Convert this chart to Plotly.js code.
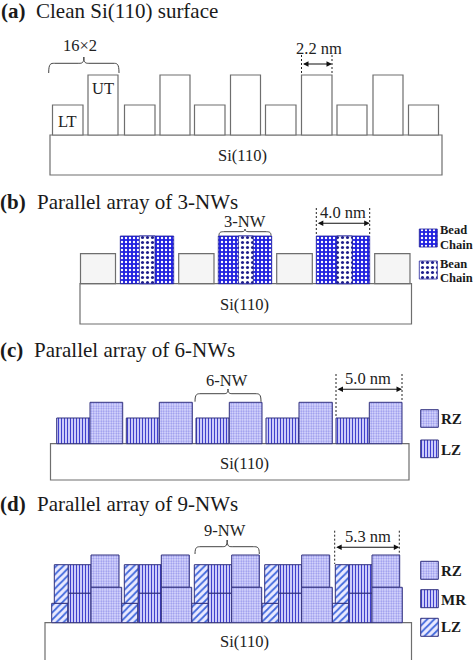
<!DOCTYPE html>
<html><head><meta charset="utf-8">
<script src="https://cdn.plot.ly/plotly-3.0.1.min.js"></script>
<style>html,body{margin:0;padding:0;background:#fff}</style></head>
<body><div id="chart" style="width:474px;height:660px"></div>
<script>
// Rectangles: left, right, top, bottom (axis units)
const substrateL=[50,80,50.5,45], substrateR=[442,411.5,409,411.5], substrateT=[135,283.7,443.7,622.7], substrateB=[175,324,480,668];

const aLowL=[52.5,124.5,194.5,265.5,337,408.5], aLowR=[83,155,225,296,367,438.5];
const aUpL=[88,160,230.5,301.5,373], aUpR=[118,190,260.5,332,403];

const bGrayL=[80.5,178.7,276.7,374.7], bGrayR=[115.5,214,312.3,410];
const bBeadL=[120.3,218.3,316.3], bBeadR=[173.7,271.7,369.7];
const bBeanL=[139.3,238.3,336.7], bBeanR=[155,253.3,352.3];

const cLzL=[56.7,126.3,196,266,336], cLzR=[90,159.3,229,299,369.3];
const cRzL=[90,159.3,229.3,299,369.3], cRzR=[122.7,192.3,262,332.3,402];

const dLzLowL=[51.7,121.7,191.7,262,332.3], dLzLowR=[67.7,137.7,208.3,278.7,348.7];
const dLzUpL=[54.3,124.3,194.3,264.7,335.3], dLzUpR=[68.3,138.3,208.3,278.7,348.7];
const dMrL=[68.3,138.3,208.3,278.7,348.7], dMrR=[91,161.3,231.7,301.7,372];
const dRzUpL=[91,161.3,231.7,301.7,372], dRzUpR=[119,189.3,259.3,329.7,399.7];
const dRzLowL=[91,161.3,231.7,301.7,372], dRzLowR=[121.7,191.7,261.7,332.3,402.3];

const legendL=[419.3,419.3,420.7,420.7,420.7,420.7,420.7], legendR=[437.3,437.3,438.3,438.3,438.3,438.3,438.3];
const legendT=[229,261,409.7,440,561.3,589.7,618.3], legendB=[247,279,427.3,457.7,579.3,607.7,636.3];
const legendStyle=['bead','bean','rz','lz','rz','lz','dz'];

const titleTags=['(a)','(b)','(c)','(d)'], titleTexts=['Clean Si(110) surface','Parallel array of 3-NWs','Parallel array of 6-NWs','Parallel array of 9-NWs'];
const titleY=[11,201.7,350,504], titleTagX=[0,0,0,0], titleTextX=[34,35,32,35];

const labels=['LT','UT','Si(110)','Si(110)','Si(110)','Si(110)','16×2','2.2 nm','3-NW','4.0 nm','6-NW','5.0 nm','9-NW','5.3 nm'];
const labelX=[67,103,242.7,244,244,244,80,319,245,343,227,368,225,368];
const labelY=[121.7,88,155,304,463,641,45,48,221,212,380,378,530.7,536];

const keyTexts=['Bead','Chain','Bean','Chain','RZ','LZ','RZ','MR','LZ'];
const keyX=[438,438,438,438,439,439,439,439,439];
const keyY=[229.5,245,264,278,419,450,570.7,600,627];

const braceL=[48.7,219,195,195], braceR=[119,271,261,259.3], braceBottom=[73,235.7,401.7,554], braceMid=[63.3,231.7,393.7,546.7], braceTip=[57,229,389,540];

const dimL=[301.5,316.3,336,334.7], dimR=[332,369.7,402,399.3], dimArrowY=[64,223.3,389.3,547.3];
const dimTop=[55,208,374,530.7], dimBottomL=[75,236,417,564], dimBottomR=[75,236,402,555];

const styles={
  plain:{marker:{color:'#ffffff',line:{color:'#6e6e6e',width:1.2}}},
  gray:{marker:{color:'#f5f5f5',line:{color:'#6e6e6e',width:1.2}}},
  bead:{marker:{color:'#2222e0',line:{color:'#20209a',width:0.8},pattern:{shape:'.',bgcolor:'#2020e0',fgcolor:'#ffffff',size:4,solidity:0.28,fillmode:'replace'}}},
  bean:{marker:{color:'#ffffff',line:{color:'#20209a',width:0.8},pattern:{shape:'.',bgcolor:'#ffffff',fgcolor:'#20208c',size:5,solidity:0.3,fillmode:'replace'}}},
  rz:{marker:{color:'#ccccff',line:{color:'#30307e',width:1},pattern:{shape:'.',bgcolor:'#e0e0ff',fgcolor:'#9090ea',size:2.5,solidity:0.45,fillmode:'replace'}}},
  lz:{marker:{color:'#ccccff',line:{color:'#30307e',width:1},pattern:{shape:'|',bgcolor:'#dcdcff',fgcolor:'#4040cc',size:3,solidity:0.4,fillmode:'replace'}}},
  dz:{marker:{color:'#ccccff',line:{color:'#30307e',width:1},pattern:{shape:'/',bgcolor:'#eaeaff',fgcolor:'#4068dc',size:5,solidity:0.35,fillmode:'replace'}}}
};
function rects(L,R,T,B,style){
  const top=i=>Array.isArray(T)?T[i]:T, bot=i=>Array.isArray(B)?B[i]:B;
  return Object.assign({type:'bar',
    x:L.map((l,i)=>(l+R[i])/2), width:L.map((l,i)=>R[i]-l),
    base:L.map((_,i)=>top(i)), y:L.map((_,i)=>bot(i)-top(i)),
    hoverinfo:'skip',showlegend:false},styles[style]);
}
const data=[
  rects(substrateL,substrateR,substrateT,substrateB,'plain'),
  rects(aLowL,aLowR,105,135,'plain'),
  rects(aUpL,aUpR,75,135,'plain'),
  rects(bGrayL,bGrayR,253.7,283.7,'gray'),
  rects(bBeadL,bBeadR,236,283.7,'bead'),
  rects(bBeanL,bBeanR,236,283.7,'bean'),
  rects(cLzL,cLzR,418,443.7,'lz'),
  rects(cRzL,cRzR,402.3,443.7,'rz'),
  rects(dLzLowL,dLzLowR,603.3,622.7,'dz'),
  rects(dLzUpL,dLzUpR,564.7,603.3,'dz'),
  rects(dMrL,dMrR,564.7,593.3,'lz'),
  rects(dMrL,dMrR,593.3,622.7,'lz'),
  rects(dRzUpL,dRzUpR,555,587.3,'rz'),
  rects(dRzLowL,dRzLowR,587.3,622.7,'rz')
];
legendL.forEach((l,i)=>data.push(rects([l],[legendR[i]],[legendT[i]],[legendB[i]],legendStyle[i])));

const ann=[], shapes=[];
const serif='"Liberation Serif","Times New Roman",serif';
titleTags.forEach((t,i)=>{
  ann.push({x:titleTagX[i],y:titleY[i],xshift:i?-2:-1,text:'<b>'+t+'</b>',xanchor:'left',yanchor:'middle',showarrow:false,font:{family:serif,size:21,color:'#1a1a1a'},xref:'x',yref:'y'});
  ann.push({x:titleTextX[i],y:titleY[i],text:titleTexts[i],xanchor:'left',yanchor:'middle',showarrow:false,font:{family:serif,size:21,color:'#1a1a1a'},xref:'x',yref:'y'});
});
labels.forEach((t,i)=>ann.push({x:labelX[i],y:labelY[i],text:t,xanchor:'center',yanchor:'middle',showarrow:false,font:{family:serif,size:16.5,color:'#222'},xref:'x',yref:'y'}));
keyTexts.forEach((t,i)=>ann.push({x:keyX[i],y:keyY[i],text:'<b>'+t+'</b>',xanchor:'left',yanchor:'middle',showarrow:false,font:{family:serif,size:i<4?12.5:15,color:'#1a1a1a'},xref:'x',yref:'y'}));

braceL.forEach((l,i)=>{
  const r=braceR[i],b=braceBottom[i],m=braceMid[i],t=braceTip[i],c=(l+r)/2;
  shapes.push({type:'path',xref:'x',yref:'y',line:{color:'#444',width:1},
    path:`M${l},${b} C${l},${m} ${l+2},${m} ${l+6},${m} L${c-5},${m} C${c-2},${m} ${c},${m} ${c},${t} C${c},${m} ${c+2},${m} ${c+5},${m} L${r-6},${m} C${r-2},${m} ${r},${m} ${r},${b}`});
});
dimL.forEach((l,i)=>{
  const r=dimR[i];
  shapes.push({type:'line',xref:'x',yref:'y',x0:l,x1:l,y0:dimTop[i],y1:dimBottomL[i],line:{color:'#222',width:1,dash:'2px,2px'}});
  shapes.push({type:'line',xref:'x',yref:'y',x0:r,x1:r,y0:dimTop[i],y1:dimBottomR[i],line:{color:'#222',width:1,dash:'2px,2px'}});
  ann.push({x:r,y:dimArrowY[i],ax:l,ay:dimArrowY[i],axref:'x',ayref:'y',xref:'x',yref:'y',text:'',showarrow:true,arrowhead:2,startarrowhead:2,arrowside:'end+start',arrowsize:1,startarrowsize:1,arrowwidth:1.1,arrowcolor:'#111',standoff:0,startstandoff:0});
});

Plotly.newPlot('chart',data,{
  width:474,height:660,margin:{l:0,r:0,t:0,b:0},paper_bgcolor:'#fff',plot_bgcolor:'#fff',
  barmode:'overlay',showlegend:false,hovermode:false,
  xaxis:{range:[0,474],visible:false,fixedrange:true},
  yaxis:{range:[660,0],visible:false,fixedrange:true},
  annotations:ann,shapes:shapes
},{displayModeBar:false,staticPlot:true});
</script></body></html>
